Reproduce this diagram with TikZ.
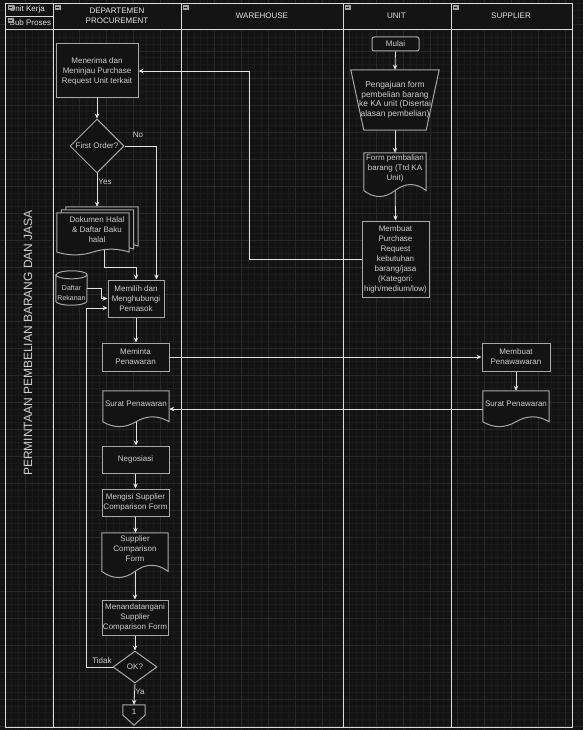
\documentclass[tikz,border=0pt]{standalone}
\usepackage{fontspec}
\setmainfont{Liberation Sans}
\usetikzlibrary{calc,shapes.geometric,arrows.meta}
\pgfdeclarelayer{back}
\pgfdeclarelayer{edges}
\pgfdeclarelayer{shapes}
\pgfsetlayers{back,edges,shapes,main}
\definecolor{bg}{HTML}{131313}
\definecolor{gmin}{HTML}{1B1B1B}
\definecolor{gmaj}{HTML}{282828}
\definecolor{hdrfill}{HTML}{141414}
\definecolor{lanec}{HTML}{DADADA}
\definecolor{bord}{HTML}{A8A8A8}
\definecolor{txt}{HTML}{CFCFCF}
\definecolor{edgec}{HTML}{E2E2E2}
\definecolor{ico}{HTML}{A0A0A0}
\newcommand\nodefont{\fontsize{8}{10}\selectfont}
\tikzset{
  box/.style={draw=bord, fill=bg, line width=1pt, text=txt, font=\nodefont, align=center, inner sep=0pt},
  blank/.style={draw=none, inner sep=0pt, text=txt, font=\nodefont, align=center},
  lbl/.style={inner sep=0pt, text=txt, font=\nodefont, align=center},
  hdrtxt/.style={inner sep=0pt, text=white!90!black, font=\fontsize{8}{9.5}\selectfont, align=center},
  shp/.style={draw=bord, fill=bg, line width=1pt},
  lanel/.style={draw=lanec, line width=0.9pt},
  arr/.style={draw=edgec, line width=0.8pt, -{Stealth[length=5pt,width=4.5pt]}},
}
% document shape: #1 = wave size (fraction of height), #2 = node name
\newcommand\docpath[2][0.3]{%
  \path[shp] let \p1=(#2.north west), \p2=(#2.south east), \n1={\x2-\x1}, \n2={\y1-\y2} in
  (\x1,\y1) -- (\x2,\y1) -- ({\x2},{\y1-(1-#1/2)*\n2})
  .. controls ({\x1+0.8333*\n1},{\y1-(1-1.1*#1)*\n2}) and ({\x1+0.6667*\n1},{\y1-(1-1.1*#1)*\n2}) .. ({\x1+0.5*\n1},{\y1-(1-#1/2)*\n2})
  .. controls ({\x1+0.3333*\n1},{\y1-(1+0.1*#1)*\n2}) and ({\x1+0.1667*\n1},{\y1-(1+0.1*#1)*\n2}) .. ({\x1},{\y1-(1-#1/2)*\n2}) -- cycle;}
\begin{document}
\begin{tikzpicture}[x=1pt,y=-1pt]
\useasboundingbox (0,0) rectangle (583,730);
\begin{pgfonlayer}{back}
  \fill[bg] (0,0) rectangle (583,730);
  \foreach \i in {0,...,88} {\draw[gmin,line width=0.5pt] ({\i*6.75-2},0) -- ({\i*6.75-2},730);}
  \foreach \i in {0,...,110} {\draw[gmin,line width=0.5pt] (0,{\i*6.75-3}) -- (583,{\i*6.75-3});}
  \foreach \i in {0,...,22} {\draw[gmaj,line width=0.6pt] ({\i*27-2},0) -- ({\i*27-2},730);}
  \foreach \i in {0,...,28} {\draw[gmaj,line width=0.6pt] (0,{\i*27-3}) -- (583,{\i*27-3});}
  \fill[hdrfill] (5,3) rectangle (572,29);
  \draw[lanel] (5,3) rectangle (572,727);
  \draw[lanel] (5,29) -- (572,29);
  \draw[lanel] (5,16) -- (53,16);
  \foreach \x in {53,181,343,451} {\draw[lanel] (\x,3) -- (\x,727);}
\end{pgfonlayer}

% header texts
\node[hdrtxt, anchor=west] (hunit) at (9.5,9.7) {Unit Kerja};
\node[hdrtxt, anchor=west] (hsub) at (9.5,22.7) {Sub Proses};
\node[hdrtxt] (hproc) at (117,16) {DEPARTEMEN\\PROCUREMENT};
\node[hdrtxt] (hware) at (262,16) {WAREHOUSE};
\node[hdrtxt] (hunitl) at (396.5,16) {UNIT};
\node[hdrtxt] (hsupp) at (511,16) {SUPPLIER};
\foreach \x/\y in {8/5,8/18,55/5,183/5,345/5,453/5} {
  \fill[ico] (\x,\y) rectangle ++(5.5,5.5);
  \draw[hdrfill,line width=0.8pt] (\x+1.2,\y+2.75) -- (\x+4.3,\y+2.75);
}
\node[rotate=90, inner sep=0pt, text=txt, font=\fontsize{12}{12}\selectfont] (title) at (28,343) {PERMINTAAN PEMBELIAN BARANG DAN JASA};

% procurement lane
\node[box, minimum width=82, minimum height=54] (menerima) at (97,71) {Menerima dan\\Meninjau Purchase\\Request Unit terkait};
\node[box, diamond, aspect=1, minimum width=54, minimum height=54] (first) at (97,146) {First Order?};
\node[lbl] (no) at (138,135) {No};
\node[lbl] (yes) at (105,182) {Yes};
\node[blank, minimum width=72, minimum height=42] (dokc) at (102,228) {};
\node[blank, minimum width=72, minimum height=42] (dokb) at (97.5,231) {};
\node[blank, minimum width=72, minimum height=42] (dok) at (93,234) {};
\node[lbl] (dokT) at (97,230) {Dokumen Halal\\\& Daftar Baku\\halal};
\node[blank, minimum width=31, minimum height=34] (rek) at (71.5,288) {};
\node[lbl, font=\fontsize{7}{10.5}\selectfont] (rekT) at (71.5,293) {Daftar\\Rekanan};
\node[box, minimum width=56, minimum height=37] (memilih) at (136,298.5) {Memilih dan\\Menghubungi\\Pemasok};
\node[box, minimum width=67, minimum height=28] (meminta) at (135.5,357) {Meminta\\Penawaran};
\node[blank, minimum width=66, minimum height=36] (suratproc) at (136,409) {};
\node[lbl] (suratprocT) at (136,403.6) {Surat Penawaran};
\node[box, minimum width=67, minimum height=27] (nego) at (135.5,459.5) {Negosiasi};
\node[box, minimum width=67, minimum height=27] (mengisi) at (135.5,502.5) {Mengisi Supplier\\Comparison Form};
\node[blank, minimum width=66, minimum height=45] (scf) at (135,555.5) {};
\node[lbl] (scfT) at (135,548.75) {Supplier\\Comparison\\Form};
\node[box, minimum width=66, minimum height=35] (tanda) at (135,617.5) {Menandatangani\\Supplier\\Comparison Form};
\node[box, diamond, aspect=1.375, minimum width=44, minimum height=32] (ok) at (135,667) {OK?};
\node[lbl] (tidak) at (102,661) {Tidak};
\node[lbl] (ya) at (140,692) {Ya};
\node[blank, minimum width=22, minimum height=20] (conn) at (134,715) {};
\node[lbl] (connT) at (134,712) {1};

% unit lane
\node[box, rounded corners=2pt, minimum width=47, minimum height=14] (mulai) at (395.5,44) {Mulai};
\node[blank, minimum width=88, minimum height=60, font=\fontsize{8.4}{9.6}\selectfont] (pengajuan) at (395,100) {Pengajuan form\\pembelian barang\\ke KA unit (Disertai\\alasan pembelian)};
\node[blank, minimum width=62, minimum height=44] (formdoc) at (395,175) {};
\node[lbl] (formT) at (395,168) {Form pembalian\\barang (Ttd KA\\Unit)};
\node[box, minimum width=67, minimum height=76] (pr) at (395.5,259) {Membuat\\Purchase\\Request\\kebutuhan\\barang/jasa\\(Kategori:\\high/medium/low)};

% supplier lane
\node[box, minimum width=68, minimum height=28] (membuatpen) at (516,357) {Membuat\\Penawawaran};
\node[blank, minimum width=66, minimum height=36] (suratsup) at (516,409) {};
\node[lbl] (suratsupT) at (516,403.6) {Surat Penawaran};

\begin{pgfonlayer}{shapes}
  \docpath[0.15]{dokc}
  \docpath[0.15]{dokb}
  \docpath[0.15]{dok}
  \docpath{suratproc}
  \docpath{suratsup}
  \docpath{scf}
  \docpath{formdoc}
  \path[shp] (pengajuan.north west) -- (pengajuan.north east) -- ([xshift=-13pt]pengajuan.south east) -- ([xshift=13pt]pengajuan.south west) -- cycle;
  \path[shp] ($(rek.north west)+(0,4)$) -- ($(rek.south west)+(0,-4)$) arc[start angle=180,end angle=0,x radius=15.5,y radius=4] -- ($(rek.north east)+(0,4)$) arc[start angle=0,end angle=-180,x radius=15.5,y radius=4] -- cycle;
  \draw[draw=bord, line width=1pt] ($(rek.north west)+(0,4)$) arc[start angle=180,end angle=0,x radius=15.5,y radius=4];
  \path[shp] (conn.north west) -- (conn.north east) -- (conn.east) -- (conn.south) -- (conn.west) -- cycle;
\end{pgfonlayer}

\begin{pgfonlayer}{edges}
  \draw[arr] (mulai.south) -- (pengajuan.north);
  \draw[arr] (pengajuan.south) -- (formdoc.north);
  \draw[arr] (formdoc.center) -- (pr.north);
  \draw[arr] (pr.west) -- ++(-112,0) |- (menerima.east);
  \draw[arr] (menerima.south) -- (first.north);
  \draw[arr] (first.east) -| ([xshift=-8pt]memilih.north east);
  \draw[arr] (first.south) -- (first.south |- dokc.north);
  \draw[arr] ([xshift=11pt]dok.center) |- ([yshift=12pt]memilih.north) -- (memilih.north);
  \draw[arr] (rek.east) -- ++(14,0) |- (memilih.west);
  \draw[arr] (ok.west) -- ++(-26,0) |- ([yshift=-9.5pt]memilih.west);
  \draw[arr] (memilih.south) -- (memilih.south |- meminta.north);
  \draw[arr] (meminta.east) -- (membuatpen.west);
  \draw[arr] (membuatpen.south) -- (suratsup.north);
  \draw[arr] (suratsup.west) -- (suratproc.east);
  \draw[arr] (suratproc.center) -- (suratproc.center |- nego.north);
  \draw[arr] (nego.south) -- (mengisi.north);
  \draw[arr] (mengisi.south) -- (mengisi.south |- scf.north);
  \draw[arr] (scf.center) -- (scf.center |- tanda.north);
  \draw[arr] (tanda.south) -- (ok.north);
  \draw[arr] (ok.south) -- (conn.north);
\end{pgfonlayer}
\end{tikzpicture}
\end{document}
